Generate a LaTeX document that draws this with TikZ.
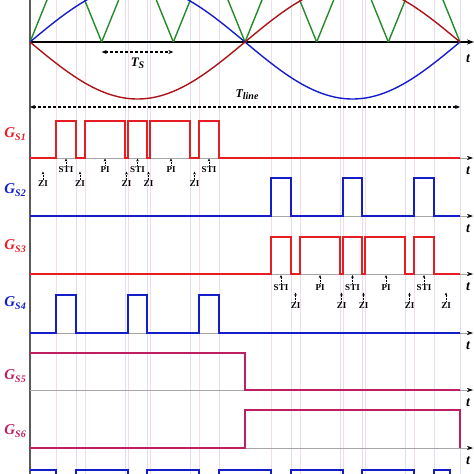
\documentclass[tikz,border=0pt]{standalone}
\usepackage{fontspec}
\setmainfont{Liberation Serif}
\usetikzlibrary{arrows.meta}
\definecolor{gridc}{RGB}{242,220,232}
\definecolor{gridv}{RGB}{226,222,240}
\definecolor{sred}{RGB}{230,30,36}
\definecolor{dred}{RGB}{170,20,25}
\definecolor{sblue}{RGB}{20,30,200}
\definecolor{sgreen}{RGB}{35,140,40}
\definecolor{smag}{RGB}{190,30,100}
\definecolor{axgray}{RGB}{90,90,90}
\tikzset{
  gridln/.style={line width=0.7pt},
  sig/.style={line width=1.6pt, line join=miter},
  axisln/.style={line width=0.6pt, draw=gray!70, -{Stealth[length=6pt,width=4pt,color=black]}},
  glab/.style={font=\fontsize{15}{15}\selectfont\bfseries\itshape, inner sep=0pt, anchor=east},
  tlab/.style={font=\fontsize{14}{14}\selectfont\bfseries\itshape, inner sep=0pt},
  ann/.style={font=\fontsize{9}{9}\selectfont\bfseries, inner sep=0.5pt, anchor=north},
  annarr/.style={line width=0.6pt, densely dotted, -{Stealth[length=3pt,width=2.6pt]}},
  dimarr/.style={line width=1.1pt, densely dashed, {Stealth[length=5pt,width=4pt]}-{Stealth[length=5pt,width=4pt]}},
}
\newcommand{\gsub}[2]{#1\raisebox{-0.4ex}{\fontsize{10}{10}\selectfont #2}}
\begin{document}
\begin{tikzpicture}[x=1pt,y=-1pt]
\useasboundingbox (0,0) rectangle (474,474);
\clip (0,0) rectangle (474,474);
% vertical grid lines
\foreach \e in {56,85,128,150,199,271,300,343,365,414}
  \draw[gridln, gridc] (\e,0) -- (\e,474);
\foreach \e in {76,125,147,190,219,291,340,362,405,434,460}
  \draw[gridln, gridv] (\e,0) -- (\e,474);
% left axis
\coordinate (ltop) at (30,0);
\coordinate (lbot) at (30,474);
\draw[line width=1.6pt, axgray] (ltop) -- (lbot);
% top axis
\coordinate (o) at (30,42);
\coordinate (oe) at (474,42);
\draw[line width=1.4pt, black, -{Stealth[length=7pt,width=5pt]}] (o) -- (oe);
\node[tlab] (t0) at (468,59) {t};
% carrier
\foreach \k in {0,...,5}{
  \draw[sgreen, line width=1.4pt, line join=miter] ({30+\k*71.667},42) -- ({65.833+\k*71.667},-46.5) -- ({101.667+\k*71.667},42);
}
% modulating waves
\draw[sblue, line width=1.4pt] plot[domain=0:215, samples=80] ({\x+30},{42-57*sin(0.83721*\x)});
\draw[sblue, line width=1.4pt] plot[domain=0:215, samples=80] ({\x+245},{42+57*sin(0.83721*\x)});
\draw[dred, line width=1.4pt] plot[domain=0:215, samples=80] ({\x+30},{42+57*sin(0.83721*\x)});
\draw[dred, line width=1.4pt] plot[domain=0:215, samples=80] ({\x+245},{42-57*sin(0.83721*\x)});
% Ts
\coordinate (ts1) at (101.667,52);
\coordinate (ts2) at (173.333,52);
\draw[dimarr] (ts1) -- (ts2);
\node[font=\fontsize{13}{13}\selectfont\bfseries\itshape, inner sep=0pt] (tsl) at (137.5,63) {\gsub{T}{S}};
% Tline
\coordinate (tl1) at (30,107);
\coordinate (tl2) at (460,107);
\draw[dimarr] (tl1) -- (tl2);
\node[font=\fontsize{12}{12}\selectfont\bfseries\itshape, inner sep=0pt] (tll) at (247,95) {\gsub{T}{line}};

% channel axes
\foreach \n/\yy in {1/158,2/216,3/274,4/333,5/390,6/448}{
  \coordinate (a\n s) at (30,\yy);
  \coordinate (a\n e) at (473,\yy);
  \draw[axisln] (a\n s) -- (a\n e);
  \node[tlab] (t\n) at (468,{\yy+13}) {t};
}
% GS1
\draw[sig, sred] (30,158) -- (56,158) -- (56,121) -- (76,121) -- (76,158) -- (85,158) -- (85,121) -- (125,121) -- (125,158) -- (128,158) -- (128,121) -- (147,121) -- (147,158) -- (150,158) -- (150,121) -- (190,121) -- (190,158) -- (199,158) -- (199,121) -- (219,121) -- (219,158) -- (460,158);
% GS2
\draw[sig, sblue] (30,216) -- (271,216) -- (271,178) -- (291,178) -- (291,216) -- (343,216) -- (343,178) -- (362,178) -- (362,216) -- (414,216) -- (414,178) -- (434,178) -- (434,216) -- (460,216);
% GS3
\draw[sig, sred] (30,274) -- (271,274) -- (271,237) -- (291,237) -- (291,274) -- (300,274) -- (300,237) -- (340,237) -- (340,274) -- (343,274) -- (343,237) -- (362,237) -- (362,274) -- (365,274) -- (365,237) -- (405,237) -- (405,274) -- (414,274) -- (414,237) -- (434,237) -- (434,274) -- (460,274);
% GS4
\draw[sig, sblue] (30,333) -- (56,333) -- (56,295) -- (76,295) -- (76,333) -- (128,333) -- (128,295) -- (147,295) -- (147,333) -- (199,333) -- (199,295) -- (219,295) -- (219,333) -- (460,333);
% GS5
\draw[sig, smag] (30,353) -- (245,353) -- (245,390) -- (460,390);
% GS6
\draw[sig, smag] (30,448) -- (245,448) -- (245,410) -- (460,410) -- (460,448);
% bottom trace
\draw[sig, sblue] (30,470) -- (56,470) -- (56,512) -- (76,512) -- (76,470) -- (128,470) -- (128,512) -- (147,512) -- (147,470) -- (199,470) -- (199,512) -- (219,512) -- (219,470) -- (271,470) -- (271,512) -- (291,512) -- (291,470) -- (343,470) -- (343,512) -- (362,512) -- (362,470) -- (414,470) -- (414,512) -- (434,512) -- (434,470) -- (450,470) -- (450,512);

% labels
\node[glab, text=sred] (g1) at (26,134) {\gsub{G}{S1}};
\node[glab, text=sblue] (g2) at (26,190) {\gsub{G}{S2}};
\node[glab, text=sred] (g3) at (26,246) {\gsub{G}{S3}};
\node[glab, text=sblue] (g4) at (26,303) {\gsub{G}{S4}};
\node[glab, text=smag] (g5) at (26,376) {\gsub{G}{S5}};
\node[glab, text=smag] (g6) at (26,431) {\gsub{G}{S6}};

% annotations
\foreach \i/\xx/\tx in {1/66/STI,2/105/PI,3/137.5/STI,4/171/PI,5/209/STI}{
  \node[ann] (u\i) at (\xx,165.5) {\tx};
  \coordinate (ut\i) at (\xx,158.5);
  \draw[annarr] (u\i.north) -- (ut\i);
}
\foreach \i/\xx in {1/43,2/80,3/126.5,4/148.5,5/194.5}{
  \node[ann] (l\i) at (\xx,180) {ZI};
  \coordinate (lt\i) at (\xx,171.5);
  \draw[annarr] (l\i.north) -- (lt\i);
}
\foreach \i/\xx/\tx in {1/281/STI,2/320/PI,3/352.5/STI,4/386/PI,5/424/STI}{
  \node[ann] (v\i) at (\xx,283.5) {\tx};
  \coordinate (vt\i) at (\xx,275);
  \draw[annarr] (v\i.north) -- (vt\i);
}
\foreach \i/\xx in {1/295.5,2/341.5,3/363.5,4/409.5,5/446}{
  \node[ann] (m\i) at (\xx,301.5) {ZI};
  \coordinate (mt\i) at (\xx,292.5);
  \draw[annarr] (m\i.north) -- (mt\i);
}
\end{tikzpicture}
\end{document}
